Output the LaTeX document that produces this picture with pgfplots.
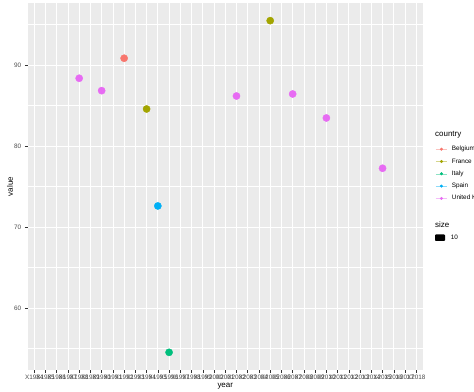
\documentclass[border=0pt]{standalone}
\usepackage{fontspec}
\setmainfont{Liberation Sans}
\usepackage{pgfplots}
\pgfplotsset{compat=1.18}
\definecolor{panel}{RGB}{235,235,235}
\definecolor{g30}{RGB}{77,77,77}
\definecolor{g20}{RGB}{51,51,51}
\definecolor{cBE}{HTML}{F8766D}
\definecolor{cFR}{HTML}{A3A500}
\definecolor{cIT}{HTML}{00BF7D}
\definecolor{cES}{HTML}{00B0F6}
\definecolor{cUK}{HTML}{E76BF3}
\begin{document}
\begin{tikzpicture}
\useasboundingbox (0,0) rectangle (474bp,392bp);
\clip (0,0) rectangle (474bp,392bp);
\fill[white] (0,0) rectangle (474bp,392bp);
\begin{axis}[
  at={(27.5bp,22bp)}, anchor=south west,
  scale only axis, width=395.5bp, height=367bp,
  xmin=-0.6, xmax=34.6, ymin=52.35, ymax=97.65,
  axis background/.style={fill=panel},
  axis line style={draw=none},
  xtick={0,...,34},
  xticklabels={X1984,X1985,X1986,X1987,X1988,X1989,X1990,X1991,X1992,X1993,X1994,X1995,X1996,X1997,X1998,X1999,X2000,X2001,X2002,X2003,X2004,X2005,X2006,X2007,X2008,X2009,X2010,X2011,X2012,X2013,X2014,X2015,X2016,X2017,X2018},
  ytick={60,70,80,90}, minor ytick={55,65,75,85,95},
  grid=both,
  major grid style={white, line width=0.75bp},
  minor grid style={white, line width=0.4bp},
  tick pos=left, tick align=outside,
  major tick length=2.7bp, minor tick length=0pt,
  tick style={g20, line width=0.5bp},
  ticklabel style={font=\fontsize{6.4}{7}\selectfont, text=g30},
  xticklabel style={yshift=1.5bp},
  /pgf/number format/assume math mode=true,
  xlabel={year}, ylabel={value},
  label style={font=\fontsize{8}{9.6}\selectfont},
  xlabel style={at={(axis description cs:0.5,-0.044)}, anchor=center},
  ylabel style={at={(axis description cs:-0.044,0.5)}, anchor=center},
  legend style={at={(axis description cs:1.0316,0.6104)}, anchor=north west,
    draw=none, fill=none, inner sep=0pt, row sep=6.3bp, column sep=4.7bp,
    font=\fontsize{6.4}{7}\selectfont,
    nodes={inner sep=0pt, text height=4.6bp, text depth=1.4bp}},
  legend cell align=left,
  legend image code/.code={
    \draw[opacity=0.45, line width=0.5bp] (0bp,0bp) -- (11bp,0bp);
    \fill (5.5bp,0bp) circle (1.3bp);
  },
]
\addplot[only marks, mark=*, mark size=3.6bp, color=cBE] coordinates {(8,90.83)};
\addlegendentry{Belgium}
\addplot[only marks, mark=*, mark size=3.6bp, color=cFR] coordinates {(10,84.57) (21,95.47)};
\addlegendentry{France}
\addplot[only marks, mark=*, mark size=3.6bp, color=cIT] coordinates {(12,54.53)};
\addlegendentry{Italy}
\addplot[only marks, mark=*, mark size=3.6bp, color=cES] coordinates {(11,72.6)};
\addlegendentry{Spain}
\addplot[only marks, mark=*, mark size=3.6bp, color=cUK] coordinates {(4,88.36) (6,86.83) (18,86.17) (23,86.42) (26,83.46) (31,77.25)};
\addlegendentry{United Kingdom}
\end{axis}
\node[anchor=west, font=\fontsize{8}{9.6}\selectfont, inner sep=0pt] at (435bp,257.7bp) {country};
\node[anchor=west, font=\fontsize{8}{9.6}\selectfont, inner sep=0pt] at (435bp,167.7bp) {size};
\fill[black, rounded corners=0.8bp] (435bp,151bp) rectangle (445bp,157.5bp);
\node[anchor=west, font=\fontsize{6.4}{7}\selectfont, inner sep=0pt] at (450.7bp,154.3bp) {10};
\end{tikzpicture}
\end{document}
